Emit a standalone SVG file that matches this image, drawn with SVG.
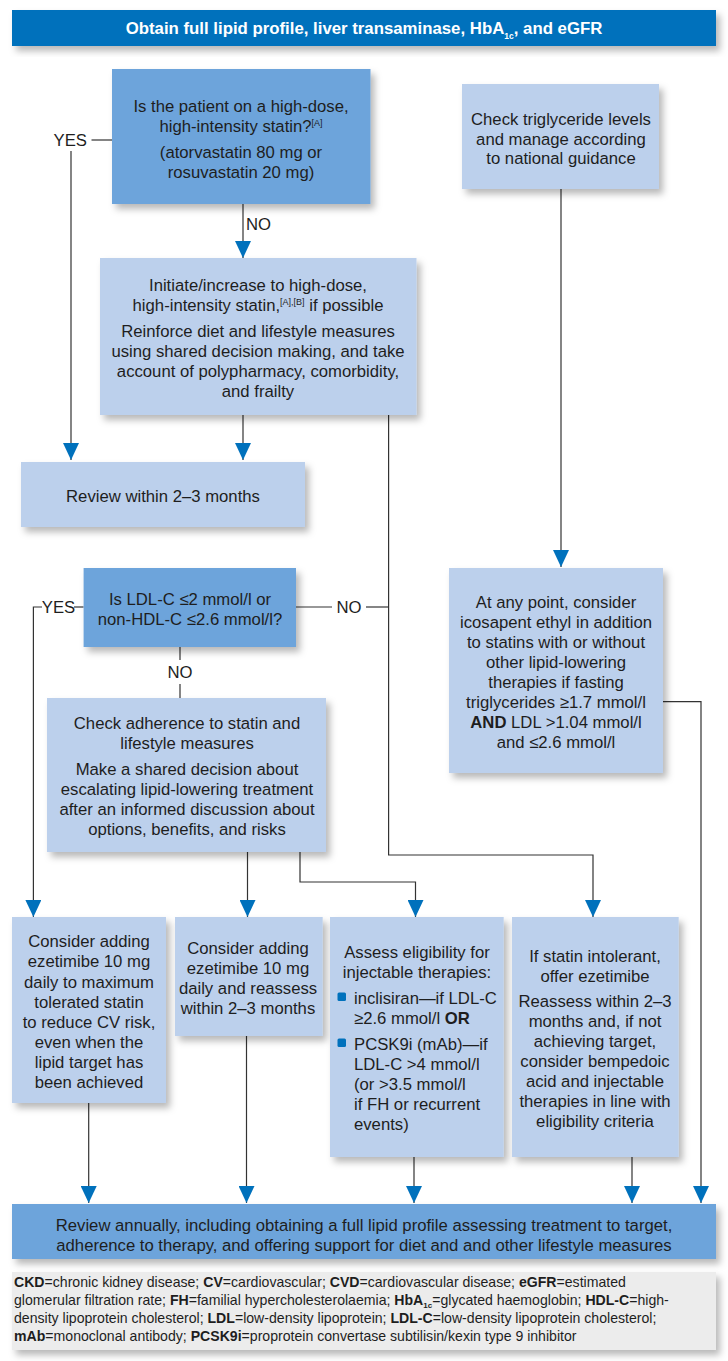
<svg xmlns="http://www.w3.org/2000/svg" width="728" height="1361" viewBox="0 0 728 1361">
<defs>
<filter id="sh" x="-10%" y="-10%" width="130%" height="140%">
<feDropShadow dx="4" dy="5" stdDeviation="3.5" flood-color="#000" flood-opacity="0.28"/>
</filter>
<marker id="arr" viewBox="0 0 17 16" refX="17" refY="8" markerWidth="17" markerHeight="16" markerUnits="userSpaceOnUse" orient="auto">
<path d="M0,0 L17,8 L0,16 z" fill="#0071bc"/>
</marker>
</defs>
<style>
text{font-family:"Liberation Sans",Arial,sans-serif;fill:#1e1e1e;font-size:16.7px}
.c{text-anchor:middle}
.hdr{fill:#0071bc}
.dk{fill:#6da4db}
.lt{fill:#bcd0ec}
.ln{fill:none;stroke:#333;stroke-width:1.2}
.a{marker-end:url(#arr)}
.b{font-weight:bold}
.sup{font-size:9px}
.lg{font-size:14.1px}
.bul{fill:#0071bc}
</style>
<rect width="728" height="1361" fill="#fff"/>

<g id="header">
<rect class="hdr" x="12" y="10" width="704" height="36" filter="url(#sh)"/>
<text x="364" y="34" class="c b" style="fill:#fff;font-size:16.8px">Obtain full lipid profile, liver transaminase, HbA<tspan style="font-size:8.5px" dy="4.5">1c</tspan><tspan dy="-4.5">, and eGFR</tspan></text>
</g>

<g id="connectors">
<path class="ln" d="M91.5,140 H112"/>
<path class="ln a" d="M71,151 V460"/>
<path class="ln a" d="M243,204 V258"/>
<path class="ln a" d="M243,415 V460"/>
<path class="ln a" d="M388.6,415 V855 H593 V917"/>
<path class="ln a" d="M561,189 V567"/>
<path class="ln" d="M296,607 H332"/>
<path class="ln" d="M366,607 H388.6"/>
<path class="ln" d="M74,607 H83.6"/>
<path class="ln a" d="M42,607 H33.4 V917"/>
<path class="ln" d="M180,647 V660"/>
<path class="ln" d="M180,684 V698"/>
<path class="ln a" d="M247.5,852 V917"/>
<path class="ln a" d="M300,852 V882 H415.5 V917"/>
<path class="ln a" d="M663,701.7 H701 V1203"/>
<path class="ln a" d="M88.7,1103 V1203"/>
<path class="ln a" d="M246.5,1036 V1203"/>
<path class="ln a" d="M414,1157 V1203"/>
<path class="ln a" d="M632,1157 V1203"/>
<text x="87" y="145.5" style="text-anchor:end">YES</text>
<text x="246" y="229.5">NO</text>
<text x="58.5" y="612.5" class="c">YES</text>
<text x="349" y="613" class="c">NO</text>
<text x="180" y="677.5" class="c">NO</text>
</g>

<g id="q1">
<rect class="dk" x="112" y="69" width="258.5" height="135" filter="url(#sh)"/>
<text x="241" y="112" class="c">Is the patient on a high-dose,</text>
<text x="241" y="131.5" class="c">high-intensity statin?<tspan class="sup" dy="-6">[A]</tspan></text>
<text x="241" y="158" class="c">(atorvastatin 80 mg or</text>
<text x="241" y="178" class="c">rosuvastatin 20 mg)</text>
</g>

<g id="trig">
<rect class="lt" x="462" y="84" width="197" height="105" filter="url(#sh)"/>
<text x="561" y="124.5" class="c">Check triglyceride levels</text>
<text x="561" y="144.5" class="c">and manage according</text>
<text x="561" y="164" class="c">to national guidance</text>
</g>

<g id="initiate">
<rect class="lt" x="100" y="258" width="316.5" height="157" filter="url(#sh)"/>
<text x="258" y="290.5" class="c">Initiate/increase to high-dose,</text>
<text x="258" y="310.5" class="c">high-intensity statin,<tspan class="sup" dy="-6">[A],[B]</tspan><tspan dy="6"> if possible</tspan></text>
<text x="258" y="337" class="c">Reinforce diet and lifestyle measures</text>
<text x="258" y="357" class="c">using shared decision making, and take</text>
<text x="258" y="377" class="c">account of polypharmacy, comorbidity,</text>
<text x="258" y="397" class="c">and frailty</text>
</g>

<g id="review">
<rect class="lt" x="21" y="462" width="284" height="65" filter="url(#sh)"/>
<text x="163" y="502" class="c">Review within 2–3 months</text>
</g>

<g id="q2">
<rect class="dk" x="83.6" y="568" width="212.4" height="79" filter="url(#sh)"/>
<text x="190" y="604.5" class="c">Is LDL-C ≤2 mmol/l or</text>
<text x="190" y="624.5" class="c">non-HDL-C ≤2.6 mmol/l?</text>
</g>

<g id="icosapent">
<rect class="lt" x="449" y="568" width="214" height="205" filter="url(#sh)"/>
<text x="556" y="608" class="c">At any point, consider</text>
<text x="556" y="628" class="c">icosapent ethyl in addition</text>
<text x="556" y="648" class="c">to statins with or without</text>
<text x="556" y="668" class="c">other lipid-lowering</text>
<text x="556" y="688" class="c">therapies if fasting</text>
<text x="556" y="708" class="c">triglycerides ≥1.7 mmol/l</text>
<text x="556" y="728" class="c"><tspan class="b">AND</tspan> LDL &gt;1.04 mmol/l</text>
<text x="556" y="748" class="c">and ≤2.6 mmol/l</text>
</g>

<g id="adherence">
<rect class="lt" x="47" y="698" width="279" height="154" filter="url(#sh)"/>
<text x="187" y="728.5" class="c">Check adherence to statin and</text>
<text x="187" y="748.5" class="c">lifestyle measures</text>
<text x="187" y="774.5" class="c">Make a shared decision about</text>
<text x="187" y="794.5" class="c">escalating lipid-lowering treatment</text>
<text x="187" y="814.5" class="c">after an informed discussion about</text>
<text x="187" y="834.5" class="c">options, benefits, and risks</text>
</g>

<g id="boxA">
<rect class="lt" x="12" y="917" width="154" height="186" filter="url(#sh)"/>
<text x="89" y="947" class="c">Consider adding</text>
<text x="89" y="967" class="c">ezetimibe 10 mg</text>
<text x="89" y="987.5" class="c">daily to maximum</text>
<text x="89" y="1007.5" class="c">tolerated statin</text>
<text x="89" y="1027.5" class="c">to reduce CV risk,</text>
<text x="89" y="1047.5" class="c">even when the</text>
<text x="89" y="1067.5" class="c">lipid target has</text>
<text x="89" y="1087.5" class="c">been achieved</text>
</g>

<g id="boxB">
<rect class="lt" x="175" y="917" width="147.7" height="119" filter="url(#sh)"/>
<text x="248" y="953.5" class="c">Consider adding</text>
<text x="248" y="973.5" class="c">ezetimibe 10 mg</text>
<text x="248" y="993.5" class="c">daily and reassess</text>
<text x="248" y="1013.5" class="c">within 2–3 months</text>
</g>

<g id="boxC">
<rect class="lt" x="330" y="917" width="173.7" height="240" filter="url(#sh)"/>
<text x="417" y="958" class="c">Assess eligibility for</text>
<text x="417" y="978" class="c">injectable therapies:</text>
<rect class="bul" x="337.5" y="992.5" width="8.5" height="8.5" rx="1.5"/>
<text x="354" y="1003.5">inclisiran—if LDL-C</text>
<text x="354" y="1023.5">≥2.6 mmol/l <tspan class="b">OR</tspan></text>
<rect class="bul" x="337.5" y="1038.5" width="8.5" height="8.5" rx="1.5"/>
<text x="354" y="1049.5">PCSK9i (mAb)—if</text>
<text x="354" y="1069.5">LDL-C &gt;4 mmol/l</text>
<text x="354" y="1089.5">(or &gt;3.5 mmol/l</text>
<text x="354" y="1110">if FH or recurrent</text>
<text x="354" y="1130">events)</text>
</g>

<g id="boxD">
<rect class="lt" x="512" y="917" width="166.7" height="240" filter="url(#sh)"/>
<text x="595" y="961.5" class="c">If statin intolerant,</text>
<text x="595" y="981.5" class="c">offer ezetimibe</text>
<text x="595" y="1007" class="c">Reassess within 2–3</text>
<text x="595" y="1027" class="c">months and, if not</text>
<text x="595" y="1047" class="c">achieving target,</text>
<text x="595" y="1067" class="c">consider bempedoic</text>
<text x="595" y="1087" class="c">acid and injectable</text>
<text x="595" y="1107" class="c">therapies in line with</text>
<text x="595" y="1127" class="c">eligibility criteria</text>
</g>

<g id="annual">
<rect class="dk" x="12" y="1204" width="704" height="55" filter="url(#sh)"/>
<text x="364" y="1230.5" class="c">Review annually, including obtaining a full lipid profile assessing treatment to target,</text>
<text x="364" y="1250.5" class="c">adherence to therapy, and offering support for diet and and other lifestyle measures</text>
</g>

<g id="legend">
<rect x="12" y="1272" width="704" height="78" fill="#ececec" filter="url(#sh)"/>
<text x="14" y="1287" class="lg"><tspan class="b">CKD</tspan>=chronic kidney disease; <tspan class="b">CV</tspan>=cardiovascular; <tspan class="b">CVD</tspan>=cardiovascular disease; <tspan class="b">eGFR</tspan>=estimated</text>
<text x="14" y="1305" class="lg">glomerular filtration rate; <tspan class="b">FH</tspan>=familial hypercholesterolaemia; <tspan class="b">HbA</tspan><tspan class="b" style="font-size:8px" dy="3">1c</tspan><tspan dy="-3">=glycated haemoglobin; </tspan><tspan class="b">HDL-C</tspan>=high-</text>
<text x="14" y="1323" class="lg">density lipoprotein cholesterol; <tspan class="b">LDL</tspan>=low-density lipoprotein; <tspan class="b">LDL-C</tspan>=low-density lipoprotein cholesterol;</text>
<text x="14" y="1341" class="lg"><tspan class="b">mAb</tspan>=monoclonal antibody; <tspan class="b">PCSK9i</tspan>=proprotein convertase subtilisin/kexin type 9 inhibitor</text>
</g>
</svg>
